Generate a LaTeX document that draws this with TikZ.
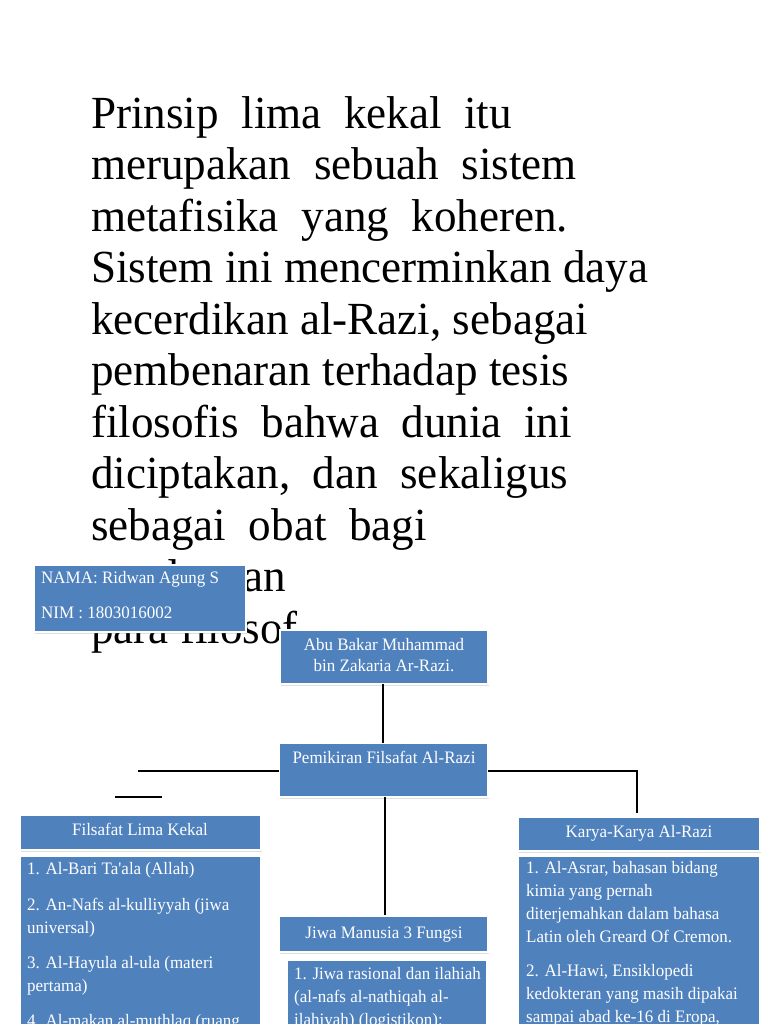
\documentclass[tikz,border=0pt]{standalone}
\usepackage{fontspec}
\usetikzlibrary{shadows}
\setmainfont{Liberation Serif}
\newfontfamily\cond[FakeStretch=0.97]{Liberation Serif}
\newfontfamily\bigf[FakeStretch=0.98]{Liberation Serif}
\definecolor{bx}{HTML}{4F81BD}
\begin{document}
\begin{tikzpicture}[x=1pt,y=-1pt,
  box/.style={fill=bx,draw=white,line width=1.2pt,drop shadow={opacity=0.25,shadow xshift=1pt,shadow yshift=-2pt}},
  wt/.style={text=white,font=\cond\fontsize{17.5}{20}\selectfont,inner sep=0pt,anchor=base west},
  wc/.style={text=white,font=\cond\fontsize{17.5}{20}\selectfont,inner sep=0pt,anchor=base},
  ln/.style={line width=2.4pt,black}]
\useasboundingbox (0,0) rectangle (768,1024);
\clip (0,0) rectangle (768,1024);
\fill[white] (0,0) rectangle (768,1024);
\node[inner sep=0pt,anchor=north west,align=left,font=\bigf\fontsize{46}{51.5}\selectfont] (big) at (91,96)
{Prinsip\ \ lima\ \ kekal\ \ itu\\ merupakan\ \ sebuah\ \ sistem\\ metafisika\ \ yang\ \ koheren.\\ Sistem ini mencerminkan daya\\ kecerdikan al-Razi, sebagai\\ pembenaran terhadap tesis\\ filosofis\ \ bahwa\ \ dunia\ \ ini\\ diciptakan,\ \ dan\ \ sekaligus\\ sebagai\ \ obat\ \ bagi\\ pandangan\\ para filosof};
% lines
\coordinate (l1) at (138,771); \coordinate (r1) at (637,771);
\coordinate (s1) at (115,797); \coordinate (s2) at (162,797);
\draw[ln] (s1) -- (s2);
% boxes
\draw[box] (34,565) rectangle (246,632);
\node[wt] (nm) at (41,583) {NAMA: Ridwan Agung S};
\node[wt] (nim) at (41,618) {NIM : 1803016002};
\draw[box] (280,630) rectangle (488,684);
\node[wc] (ab) at (384,650) {Abu Bakar Muhammad};
\node[wc] (ab2) at (384,671) {bin Zakaria Ar-Razi.};
\draw[box] (279,743) rectangle (488,797);
\node[wc] (pf) at (384,763) {Pemikiran Filsafat Al-Razi};
\coordinate (abb) at (383,684); \coordinate (pft) at (383,743);
\coordinate (pfl) at (279,771); \coordinate (pfr) at (488,771);
\coordinate (pfb) at (385,797); \coordinate (jt) at (385,916);
\coordinate (kt) at (637,813);
\draw[ln] (abb) -- (pft);
\draw[ln] (pfl) -- (l1);
\draw[ln] (pfr) -- (r1) -- (kt);
\draw[ln] (pfb) -- (jt);
% left
\draw[box] (20,815) rectangle (261,850);
\node[wc] (fl) at (140,835) {Filsafat Lima Kekal};
\draw[box] (20,856) rectangle (261,1040);
\node[wt] (f1) at (27,874) {1. Al-Bari Ta'ala (Allah)};
\node[wt] (f2) at (27,910) {2. An-Nafs al-kulliyyah (jiwa};
\node[wt] (f2b) at (27,933) {universal)};
\node[wt] (f3) at (27,968) {3. Al-Hayula al-ula (materi};
\node[wt] (f3b) at (27,991) {pertama)};
\node[wt] (f4) at (27,1026) {4. Al-makan al-muthlaq (ruang};
% right
\draw[box] (518,817) rectangle (760,851);
\node[wc] (kr) at (639,837) {Karya-Karya Al-Razi};
\draw[box] (518,856) rectangle (760,1040);
\node[wt] (k1) at (526,873) {1. Al-Asrar, bahasan bidang};
\node[wt] (k2) at (526,896) {kimia yang pernah};
\node[wt] (k3) at (526,919) {diterjemahkan dalam bahasa};
\node[wt] (k4) at (526,942) {Latin oleh Greard Of Cremon.};
\node[wt] (k5) at (526,976) {2. Al-Hawi, Ensiklopedi};
\node[wt] (k6) at (526,999) {kedokteran yang masih dipakai};
\node[wt] (k7) at (526,1022) {sampai abad ke-16 di Eropa,};
% middle
\draw[box] (279,916) rectangle (488,952);
\node[wc] (jw) at (384,938) {Jiwa Manusia 3 Fungsi};
\draw[box] (287,960) rectangle (487,1040);
\node[wt] (j1) at (294,979) {1. Jiwa rasional dan ilahiah};
\node[wt] (j2) at (294,1002) {(al-nafs al-nathiqah al-};
\node[wt] (j3) at (294,1025) {ilahiyah) (logistikon);};
\end{tikzpicture}
\end{document}
